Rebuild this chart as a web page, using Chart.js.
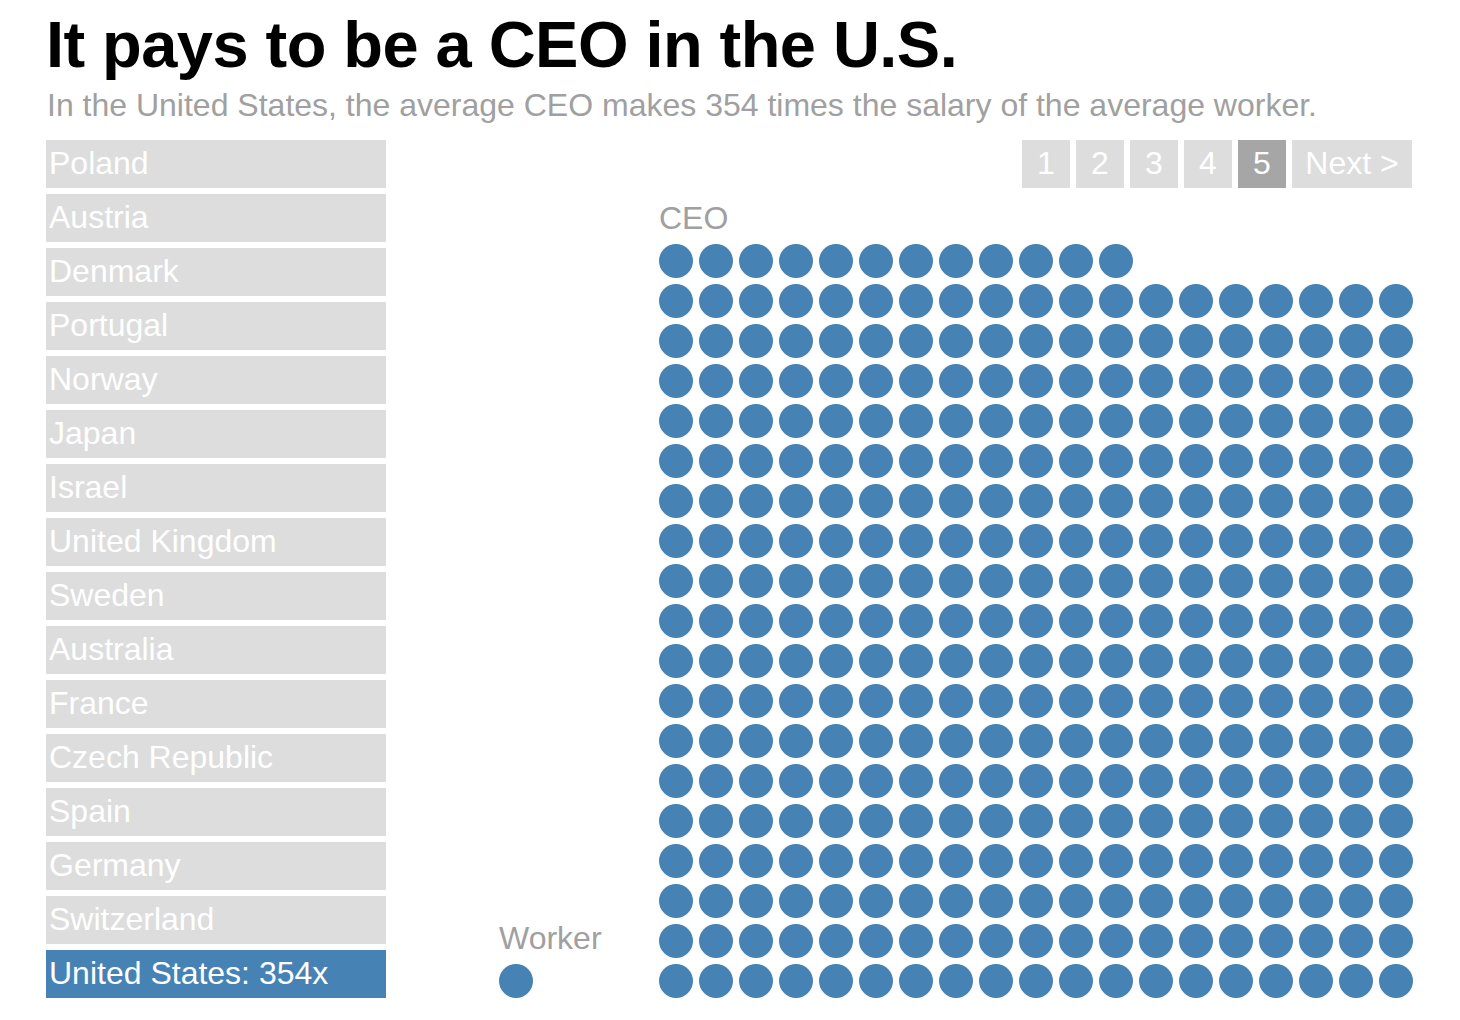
<!DOCTYPE html>
<html>
<head>
<meta charset="utf-8">
<script src="https://cdn.jsdelivr.net/npm/chart.js@4/dist/chart.umd.min.js"></script>
<style>
  body { margin: 0; background: #fff; font-family: "Liberation Sans", Arial, Helvetica, sans-serif; }
  #page { position: relative; width: 1460px; height: 1020px; overflow: hidden; }
  h1 { position: absolute; left: 46px; top: 6px; margin: 0; font-size: 65px; line-height: 78px; font-weight: bold; color: #000; letter-spacing: -0.55px; }
  .sub { position: absolute; left: 47px; top: 86px; margin: 0; font-size: 32px; line-height: 38px; color: #a0a0a0; }
  #countries { position: absolute; left: 46px; top: 140px; width: 340px; }
  .cty { height: 48px; margin-bottom: 6px; background: #dddddd; color: #fff; font-size: 32px; line-height: 46px; padding-left: 3px; box-sizing: border-box; white-space: nowrap; }
  .cty.sel { background: #4682b4; }
  #pager { position: absolute; top: 140px; left: 1022px; display: flex; }
  .pg { height: 48px; min-width: 48px; margin-right: 6px; background: #dddddd; color: #fff; font-size: 32px; line-height: 46px; text-align: center; }
  .pg.on { background: #a6a6a6; }
  .pg.next { width: 120px; margin-right: 0; }
  .lbl { position: absolute; font-size: 32px; line-height: 38px; color: #a0a0a0; }
  #wrap { position: absolute; left: 480px; top: 201px; width: 960px; height: 820px; }
</style>
</head>
<body>
<div id="page">
  <h1>It pays to be a CEO in the U.S.</h1>
  <p class="sub">In the United States, the average CEO makes 354 times the salary of the average worker.</p>
  <div id="countries"></div>
  <div id="pager"></div>
  <div class="lbl" style="left:659px; top:199px;">CEO</div>
  <div class="lbl" style="left:499px; top:919px;">Worker</div>
  <div id="wrap"><canvas id="dots"></canvas></div>
</div>
<script>
var countries = ["Poland", "Austria", "Denmark", "Portugal", "Norway", "Japan", "Israel",
  "United Kingdom", "Sweden", "Australia", "France", "Czech Republic", "Spain",
  "Germany", "Switzerland", "United States"];
var selected = "United States";
var ceoRatio = 354;
var workerCount = 1;
var perRow = 19;
var pages = ["1", "2", "3", "4", "5"];
var currentPage = "5";

var list = document.getElementById("countries");
countries.forEach(function (c) {
  var d = document.createElement("div");
  d.className = "cty" + (c === selected ? " sel" : "");
  d.textContent = c === selected ? c + ": " + ceoRatio + "x" : c;
  list.appendChild(d);
});

var pager = document.getElementById("pager");
pages.forEach(function (p) {
  var d = document.createElement("div");
  d.className = "pg" + (p === currentPage ? " on" : "");
  d.textContent = p;
  pager.appendChild(d);
});
var nx = document.createElement("div");
nx.className = "pg next";
nx.textContent = "Next >";
pager.appendChild(nx);

// one dot per worker salary, filled row by row from the bottom
var ceoDots = [];
for (var k = 0; k < ceoRatio; k++) {
  ceoDots.push({ x: k % perRow, y: Math.floor(k / perRow) });
}
var workerDots = [];
for (var w = 0; w < workerCount; w++) {
  workerDots.push({ x: -4 + w, y: 0 });
}

var ctx = document.getElementById("dots").getContext("2d");
var myChart = new Chart(ctx, {
  type: "scatter",
  data: {
    datasets: [
      { label: "CEO", data: ceoDots, backgroundColor: "#4682b4", borderWidth: 0, pointRadius: 17, pointHoverRadius: 17 },
      { label: "Worker", data: workerDots, backgroundColor: "#4682b4", borderWidth: 0, pointRadius: 17, pointHoverRadius: 17 },
    ],
  },
  options: {
    responsive: true,
    maintainAspectRatio: false,
    animation: false,
    layout: { padding: 0, autoPadding: false },
    plugins: { legend: { display: false }, tooltip: { enabled: false } },
    scales: {
      x: { type: "linear", min: -4.9, max: 19.1, display: false },
      y: { type: "linear", min: -1, max: 19.5, display: false },
    },
  },
});
</script>
</body>
</html>
